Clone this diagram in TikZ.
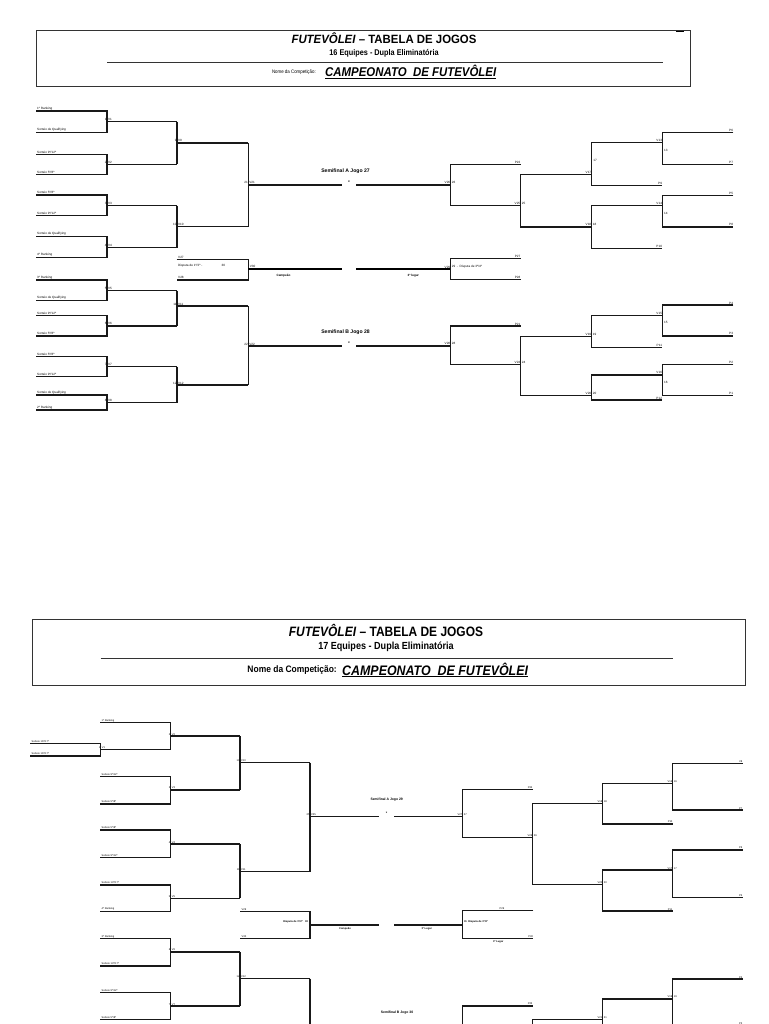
\documentclass[tikz,border=0pt]{standalone}
\usepackage{fontspec}
\setmainfont{Liberation Sans}
\newfontfamily\nrw[FakeStretch=0.88]{Liberation Sans}
\newfontfamily\nrwb[FakeStretch=0.9]{Liberation Sans}
\newfontfamily\nrwc[FakeStretch=0.95]{Liberation Sans}
\usetikzlibrary{calc}
\newcommand\bp[6]{\draw[br] (#1,#3) -- (#2,#3) -- (#2,#4) -- (#1,#4); \draw[br] (#2,#5) -- (#6,#5);}
\newcommand\vj[5]{\draw[br] (#1,#2) -- (#1,#3); \draw[br] (#1,#4) -- (#5,#4);}
\newcommand\rp[4]{\draw[br] (#2,#3) -- (#1,#3) -- (#1,#4) -- (#2,#4);}
\newcommand\tl[3][lb]{\node[#1,anchor=south west] at (#2) {#3};}
\newcommand\ml[4][lb]{\node[#1,anchor=south east] at ($(#2)+(-0.3,-0.8)$) {#3}; \node[#1,anchor=south west] at ($(#2)+(0.9,-0.8)$) {#4};}
\newcommand\el[3][lb]{\node[#1,anchor=south east] at ($(#2)+(-0.3,-0.8)$) {#3};}
\begin{document}
\begin{tikzpicture}[x=1pt,y=-1pt,
  br/.style={line width=1.1pt,black!90},
  thk/.style={line width=2.3pt,black},
  bx/.style={line width=0.7pt,black!80},
  lb/.style={font=\fontsize{3.1}{3.4}\selectfont,inner sep=0pt},
  ls/.style={font=\fontsize{2.6}{3}\selectfont,inner sep=0pt},
  lbb/.style={font=\bfseries\fontsize{3.1}{3.4}\selectfont,inner sep=0pt},
  lsb/.style={font=\bfseries\fontsize{2.6}{3}\selectfont,inner sep=0pt},
  semi/.style={font=\bfseries\fontsize{5.1}{6}\selectfont,inner sep=0pt},
  semis/.style={font=\bfseries\fontsize{3.4}{4}\selectfont,inner sep=0pt},
  ttl/.style={font=\nrwc\bfseries\fontsize{12}{14}\selectfont,inner sep=0pt,anchor=base},
  ttlb/.style={font=\nrw\bfseries\fontsize{13.6}{15}\selectfont,inner sep=0pt,anchor=base},
  sub/.style={font=\nrw\bfseries\fontsize{8.3}{10}\selectfont,inner sep=0pt,anchor=base},
  subb/.style={font=\nrw\bfseries\fontsize{10.3}{12}\selectfont,inner sep=0pt,anchor=base},
  nome/.style={font=\nrw\fontsize{5}{6}\selectfont,inner sep=0pt},
  nomeb/.style={font=\nrwb\bfseries\fontsize{9.4}{11}\selectfont,inner sep=0pt},
  camp/.style={font=\nrwb\bfseries\itshape\fontsize{12.7}{14}\selectfont,inner sep=0pt},
  campb/.style={font=\nrwb\bfseries\itshape\fontsize{13.8}{15}\selectfont,inner sep=0pt}]
\useasboundingbox (0,0) rectangle (768,1024);
\fill[white] (0,0) rectangle (768,1024);
% ================= TOP HEADER =================
\draw[bx] (36,30) rectangle (690,86);
\draw[line width=0.8pt] (676,31) -- (684,31);
\node[ttl] (t1) at (384,43.5) {\textit{FUTEVÔLEI} – TABELA DE JOGOS};
\node[sub] (s1) at (384,55.2) {16 Equipes - Dupla Eliminatória};
\draw[bx] (107,62.5) -- (663,62.5);
\node[nome,anchor=east] (n1) at (316,72.5) {Nome da Competição:};
\node[camp,anchor=west] (c1) at (325,72) {\underline{CAMPEONATO\ \ DE FUTEVÔLEI}};
% ================= TOP BRACKET LEFT =================
\bp{36}{107}{111}{132.3}{121.7}{177}
\bp{36}{107}{154.3}{174.3}{164.3}{177}
\bp{36}{107}{195}{215.7}{205.7}{177}
\bp{36}{107}{236.7}{257.3}{247.5}{177}
\bp{36}{107}{280}{300.7}{290.5}{177}
\bp{36}{107}{315.7}{336}{326}{177}
\bp{36}{107}{356.7}{376.7}{366.7}{177}
\bp{36}{107}{395}{410}{402.5}{177}
\vj{177}{121.7}{164.3}{143}{248.3}
\vj{177}{205.7}{247.5}{226.7}{248.3}
\vj{177}{290.5}{326}{306}{248.3}
\vj{177}{366.7}{402.5}{385}{248.3}
\vj{248.3}{143}{226.7}{185}{341.7}
\vj{248.3}{306}{385}{346}{341.7}
\tl{37,110}{1º Ranking}
\tl{37,131.3}{Sorteio de Qualifying}
\tl{37,153.3}{Sorteio 9º/12º}
\tl{37,173.3}{Sorteio 5º/8º}
\tl{37,194}{Sorteio 5º/8º}
\tl{37,214.7}{Sorteio 9º/12º}
\tl{37,235.7}{Sorteio de Qualifying}
\tl{37,256.3}{4º Ranking}
\tl{37,279}{3º Ranking}
\tl{37,299.7}{Sorteio de Qualifying}
\tl{37,314.7}{Sorteio 9º/12º}
\tl{37,335}{Sorteio 5º/8º}
\tl{37,355.7}{Sorteio 5º/8º}
\tl{37,375.7}{Sorteio 9º/12º}
\tl{37,394}{Sorteio de Qualifying}
\tl{37,409}{2º Ranking}
\ml{107,121.7}{1}{V1}
\ml{107,164.3}{2}{V2}
\ml{107,205.7}{3}{V3}
\ml{107,247.5}{4}{V4}
\ml{107,290.5}{5}{V5}
\ml{107,326}{6}{V6}
\ml{107,366.7}{7}{V7}
\ml{107,402.5}{8}{V8}
\ml{177,143}{9}{V9}
\ml{177,226.7}{10}{V10}
\ml{177,306}{11}{V11}
\ml{177,385}{12}{V12}
\ml{248.3,185}{21}{V21}
\ml{248.3,346}{22}{V22}
% middle left (final)
\draw[br] (176.7,259.3) -- (248.3,259.3) -- (248.3,280) -- (176.7,280);
\draw[thk] (248.3,269.3) -- (341.7,269.3);
\tl{178,258.3}{V27}
\tl{178,279}{V28}
\node[lb,anchor=west] at (178,265.7) {Disputa de 1º/2º -};
\node[lb] at (223.3,265.7) {30};
\tl{249.6,267.6}{V30}
\node[lbb] at (283.5,276) {Campeão};
\node[lbb] at (413.3,276) {3º lugar};
\node[semi] at (345.5,171) {Semifinal A Jogo 27};
\node[lbb] at (349,181.7) {x};
\node[semi] at (345.5,332.5) {Semifinal B Jogo 28};
\node[lbb] at (349,343) {x};
% ================= TOP BRACKET RIGHT =================
\draw[br] (356,185) -- (450.7,185);
\rp{450.7}{520.7}{164.3}{205.7}
\rp{520.7}{591.7}{174.3}{227}
\rp{591.7}{662.3}{142.7}{185.7}
\rp{662.3}{733.3}{132.7}{164.3}
\rp{591.7}{662.3}{205.7}{248.3}
\rp{662.3}{733.3}{195.7}{227}
\draw[thk] (356,269.3) -- (450.7,269.3);
\rp{450.7}{520.7}{258.7}{279.3}
\draw[br] (356,346) -- (450.7,346);
\rp{450.7}{520.7}{326}{364.3}
\rp{520.7}{591.7}{336.7}{395.7}
\rp{591.7}{662.3}{315.7}{347.3}
\rp{662.3}{733.3}{305}{336}
\rp{591.7}{662.3}{375}{400}
\rp{662.3}{733.3}{364.7}{395.7}
\ml{450.7,185}{V26}{26}
\el{520.9,164.3}{P22}
\ml{520.7,205.7}{V25}{25}
\ml{591.7,174.3}{V17}{}
\node[lb,anchor=west] at (593.2,160.3) {17};
\ml{591.7,227}{V18}{18}
\el{662.5,142.7}{V13}
\node[lb,anchor=west] at (664,150) {13};
\el{662.5,185.7}{P9}
\el{662.5,205.7}{V14}
\node[lb,anchor=west] at (664,213.3) {14};
\el{662.5,248.3}{P10}
\el{733.5,132.7}{P6}
\el{733.5,164.3}{P7}
\el{733.5,195.7}{P5}
\el{733.5,227}{P8}
\el{520.9,258.7}{P27}
\el{520.9,279.3}{P28}
\ml{450.7,269.3}{V29}{29\ \ -\ \ Disputa de 3º/4º}
\ml{450.7,346}{V28}{28}
\el{520.9,326}{P21}
\ml{520.7,364.3}{V24}{24}
\ml{591.7,336.7}{V19}{19}
\ml{591.7,395.7}{V20}{20}
\el{662.5,315.7}{V15}
\node[lb,anchor=west] at (664,322.7) {15};
\el{662.5,347.3}{P11}
\el{662.5,375}{V16}
\node[lb,anchor=west] at (664,382) {16};
\el{662.5,400}{P12}
\el{733.5,305}{P4}
\el{733.5,336}{P3}
\el{733.5,364.7}{P2}
\el{733.5,395.7}{P1}
% ================= BOTTOM HEADER =================
\draw[bx] (32,619) rectangle (745,685);
\node[ttlb] (t2) at (386,636.6) {\textit{FUTEVÔLEI} – TABELA DE JOGOS};
\node[subb] (s2) at (386,649) {17 Equipes - Dupla Eliminatória};
\draw[bx] (100.5,658) -- (673,658);
\node[nomeb,anchor=east] (n2) at (337,670.5) {Nome da Competição:};
\node[campb,anchor=west] (c2) at (342,670) {\underline{CAMPEONATO\ \ DE FUTEVÔLEI}};
% ================= BOTTOM BRACKET LEFT =================
\bp{30}{100.7}{743.3}{756}{749.7}{170.7}
\draw[br] (100,722.7) -- (170.7,722.7);
\vj{170.7}{722.7}{749.7}{736}{240}
\bp{100}{170.7}{776.7}{804}{790}{240}
\bp{100}{170.7}{830}{857.3}{844}{240}
\bp{100}{170.7}{885}{911.3}{898.3}{240}
\bp{100}{170.7}{938.7}{966}{952}{240}
\bp{100}{170.7}{992.7}{1019.3}{1006}{240}
\vj{240}{736}{790}{762.7}{310}
\vj{240}{844}{898.3}{871.7}{310}
\vj{240}{952}{1006}{978.7}{310}
\vj{310}{762.7}{871.7}{816.7}{379.3}
\draw[br] (310,978.7) -- (310,1030);
\tl[ls]{101.5,721.8}{1º Ranking}
\tl[ls]{31.5,742.4}{Sorteio 16º/17º}
\tl[ls]{31.5,755.1}{Sorteio 16º/17º}
\tl[ls]{101.5,775.8}{Sorteio 9º/12º}
\tl[ls]{101.5,803.1}{Sorteio 5º/8º}
\tl[ls]{101.5,829.1}{Sorteio 5º/8º}
\tl[ls]{101.5,856.4}{Sorteio 9º/12º}
\tl[ls]{101.5,884.1}{Sorteio 13º/17º}
\tl[ls]{101.5,910.4}{4º Ranking}
\tl[ls]{101.5,937.8}{3º Ranking}
\tl[ls]{101.5,965.1}{Sorteio 13º/17º}
\tl[ls]{101.5,991.8}{Sorteio 9º/12º}
\tl[ls]{101.5,1018.4}{Sorteio 5º/8º}
\ml[ls]{100.7,749.7}{1}{V1}
\ml[ls]{170.7,736}{2}{V2}
\ml[ls]{170.7,790}{3}{V3}
\ml[ls]{170.7,844}{4}{V4}
\ml[ls]{170.7,898.3}{5}{V5}
\ml[ls]{170.7,952}{6}{V6}
\ml[ls]{170.7,1006}{7}{V7}
\ml[ls]{240,762.7}{10}{V10}
\ml[ls]{240,871.7}{11}{V11}
\ml[ls]{240,978.7}{12}{V12}
\ml[ls]{310,816.7}{25}{V25}
% middle
\draw[br] (240,911.3) -- (310,911.3) -- (310,938.7) -- (240,938.7);
\draw[br] (310,925) -- (379.3,925);
\draw[br] (394,925) -- (462.7,925);
\draw[br] (533.3,910.7) -- (462.7,910.7) -- (462.7,938.3) -- (533.3,938.3);
\tl[ls]{241.5,910.4}{V29}
\tl[ls]{241.5,937.8}{V30}
\node[lsb,anchor=east] at (303,921.7) {Disputa de 1º/2º};
\node[lsb] at (306.5,921.7) {30};
\node[lsb] at (345,929) {Campeão};
\node[lsb] at (426.7,929) {3º Lugar};
\node[lsb,anchor=west] at (463.8,921.7) {31\ \ Disputa de 3º/4º};
\node[ls] at (502,908.2) {P29};
\el[ls]{533.5,938.3}{P30}
\node[lsb] at (498.3,942.3) {3º Lugar};
\node[semis] at (386.7,800) {Semifinal A Jogo 29};
\node[lsb] at (386.7,813.3) {x};
\node[semis] at (397,1013) {Semifinal B Jogo 30};
\draw[br] (310,816.7) -- (379.3,816.7);
\draw[br] (394,816.7) -- (462.7,816.7);
% ================= BOTTOM BRACKET RIGHT =================
\rp{462.7}{532.7}{789.3}{837.3}
\rp{532.7}{602.7}{803.3}{884.3}
\rp{602.7}{672.7}{783.3}{824}
\rp{672.7}{742.7}{763.3}{810}
\rp{602.7}{672.7}{870}{911}
\rp{672.7}{742.7}{850}{897.7}
\draw[br] (532.7,1006) -- (462.7,1006) -- (462.7,1030);
\draw[br] (602.7,1019.3) -- (532.7,1019.3) -- (532.7,1030);
\draw[br] (672.7,999) -- (602.7,999) -- (602.7,1030);
\draw[br] (742.7,979) -- (672.7,979) -- (672.7,1030);
\ml[ls]{462.7,816.7}{V27}{27}
\el[ls]{532.9,789.3}{P24}
\ml[ls]{532.7,837.3}{V26}{26}
\ml[ls]{602.7,803.3}{V18}{18}
\ml[ls]{602.7,884.3}{V20}{20}
\ml[ls]{672.7,783.3}{V16}{16}
\el[ls]{672.9,824}{P10}
\ml[ls]{672.7,870}{V17}{17}
\el[ls]{672.9,911}{P11}
\el[ls]{742.9,763.3}{V8}
\el[ls]{742.9,810}{P7}
\el[ls]{742.9,850}{P6}
\el[ls]{742.9,897.7}{P5}
\el[ls]{532.9,1006}{P23}
\ml[ls]{602.7,1019.3}{V21}{21}
\ml[ls]{672.7,999}{V19}{19}
\el[ls]{742.9,979}{P4}
\el[ls]{742.9,1025.5}{P3}
\end{tikzpicture}
\end{document}
